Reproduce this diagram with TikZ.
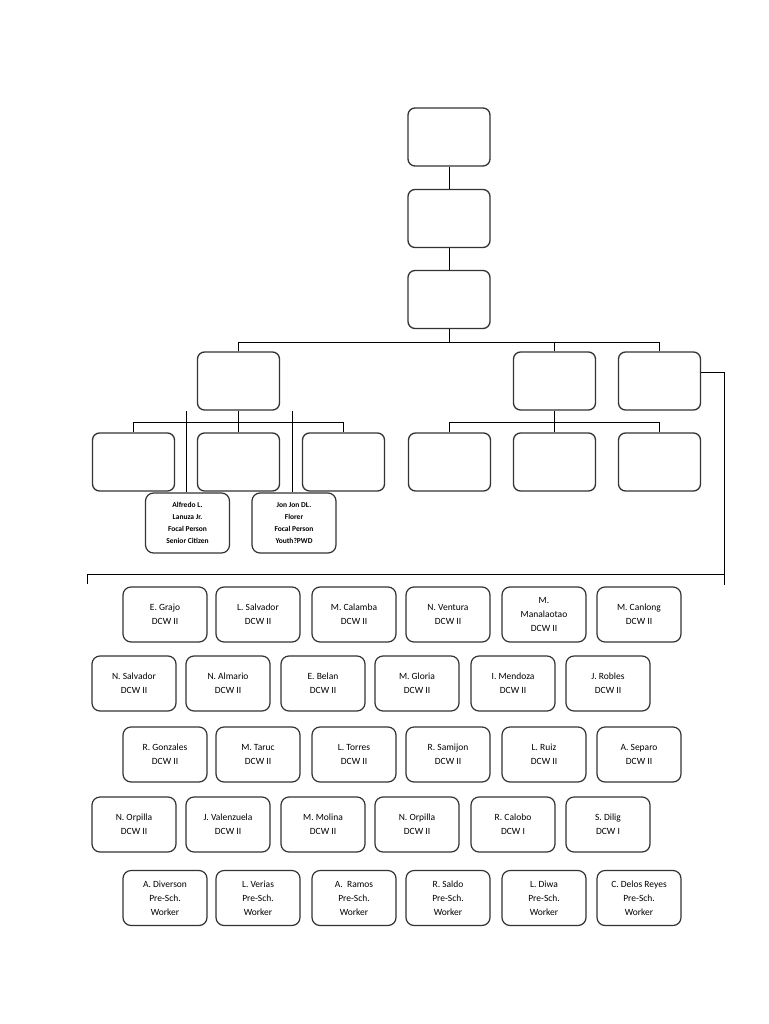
\documentclass[tikz,border=0pt]{standalone}
\usepackage{fontspec}
\setmainfont{Carlito}
\begin{document}
\begin{tikzpicture}[x=1pt,y=-1pt,
  box/.style={draw=black!80,line width=1.3pt,rounded corners=7pt,minimum width=82pt,minimum height=58pt,inner sep=0pt},
  nm/.style={draw=black!80,line width=1.2pt,rounded corners=8pt,minimum width=84pt,minimum height=55pt,inner sep=0pt,align=center,font=\fontsize{9.5}{14}\selectfont},
  fp/.style={draw=black!80,line width=1.2pt,rounded corners=8pt,minimum width=84pt,minimum height=60pt,inner sep=0pt,align=center,font=\fontsize{7.5}{12}\selectfont\bfseries},
  ln/.style={line width=0.8pt,draw=black},
  stem/.style={line width=1.5pt,draw=black}]
\useasboundingbox (0,0) rectangle (768,1024);
% top chain
\node[box] (t1) at (449,137) {};
\node[box] (t2) at (449,218.5) {};
\node[box] (t3) at (449,299.5) {};
% level 2
\node[box] (a) at (238.5,381) {};
\node[box] (b) at (554.5,381) {};
\node[box] (c) at (659.5,381) {};
% level 3
\node[box] (l1) at (133.5,462) {};
\node[box] (l2) at (238.5,462) {};
\node[box] (l3) at (343.5,462) {};
\node[box] (l4) at (449.5,462) {};
\node[box] (l5) at (554.5,462) {};
\node[box] (l6) at (659.5,462) {};
% focal persons
\node[fp] (fa) at (187.5,523) {Alfredo L.\\Lanuza Jr.\\Focal Person\\Senior Citizen};
\node[fp] (fb) at (294,523) {Jon Jon DL.\\Florer\\Focal Person\\Youth?PWD};
% connectors
\draw[ln] (t1) -- (t2);
\draw[ln] (t2) -- (t3);
\draw[ln] (t3.south) -- ++(0,13) coordinate (j0);
\draw[ln] (a.north) |- (j0) -| (c.north);
\draw[ln] (j0) -| (b.north);
\draw[stem] (a.south) -- ++(0,12) coordinate (j1);
\draw[ln] (l1.north) |- (j1) -| (l3.north);
\draw[stem] (j1) -- (l2.north);
\draw[ln] (b.south) -- ++(0,12) coordinate (j2);
\draw[ln] (l4.north) |- (j2) -| (l6.north);
\draw[ln] (j2) -- (l5.north);
\draw[ln] ([xshift=-1.5pt]fa.north) -- ([xshift=-1.5pt]fa.north |- a.south);
\draw[ln] ([xshift=-2pt]fb.north) -- ([xshift=-2pt]fb.north |- a.south);
% bracket to staff
\coordinate (br) at (724,585);
\coordinate (bl) at (87,584);
\coordinate (bt) at (724,574);
\draw[ln] ([yshift=9pt]c.east) -| (br);
\draw[ln] (bl) |- (bt);
% row 1
\node[nm] (r11) at (165,614.5) {E. Grajo\\DCW II};
\node[nm] (r12) at (258,614.5) {L. Salvador\\DCW II};
\node[nm] (r13) at (354,614.5) {M. Calamba\\DCW II};
\node[nm] (r14) at (448,614.5) {N. Ventura\\DCW II};
\node[nm] (r15) at (544,614.5) {M.\\Manalaotao\\DCW II};
\node[nm] (r16) at (639,614.5) {M. Canlong\\DCW II};
% row 2
\node[nm] (r21) at (134,683.5) {N. Salvador\\DCW II};
\node[nm] (r22) at (228,683.5) {N. Almario\\DCW II};
\node[nm] (r23) at (323,683.5) {E. Belan\\DCW II};
\node[nm] (r24) at (417,683.5) {M. Gloria\\DCW II};
\node[nm] (r25) at (513,683.5) {I. Mendoza\\DCW II};
\node[nm] (r26) at (608,683.5) {J. Robles\\DCW II};
% row 3
\node[nm] (r31) at (165,754.5) {R. Gonzales\\DCW II};
\node[nm] (r32) at (258,754.5) {M. Taruc\\DCW II};
\node[nm] (r33) at (354,754.5) {L. Torres\\DCW II};
\node[nm] (r34) at (448,754.5) {R. Samijon\\DCW II};
\node[nm] (r35) at (544,754.5) {L. Ruiz\\DCW II};
\node[nm] (r36) at (639,754.5) {A. Separo\\DCW II};
% row 4
\node[nm] (r41) at (134,824.5) {N. Orpilla\\DCW II};
\node[nm] (r42) at (228,824.5) {J. Valenzuela\\DCW II};
\node[nm] (r43) at (323,824.5) {M. Molina\\DCW II};
\node[nm] (r44) at (417,824.5) {N. Orpilla\\DCW II};
\node[nm] (r45) at (513,824.5) {R. Calobo\\DCW I};
\node[nm] (r46) at (608,824.5) {S. Dilig\\DCW I};
% row 5
\node[nm] (r51) at (165,898) {A. Diverson\\Pre-Sch.\\Worker};
\node[nm] (r52) at (258,898) {L. Verias\\Pre-Sch.\\Worker};
\node[nm] (r53) at (354,898) {A.~~Ramos\\Pre-Sch.\\Worker};
\node[nm] (r54) at (448,898) {R. Saldo\\Pre-Sch.\\Worker};
\node[nm] (r55) at (544,898) {L. Diwa\\Pre-Sch.\\Worker};
\node[nm] (r56) at (639,898) {C. Delos Reyes\\Pre-Sch.\\Worker};
\end{tikzpicture}
\end{document}
